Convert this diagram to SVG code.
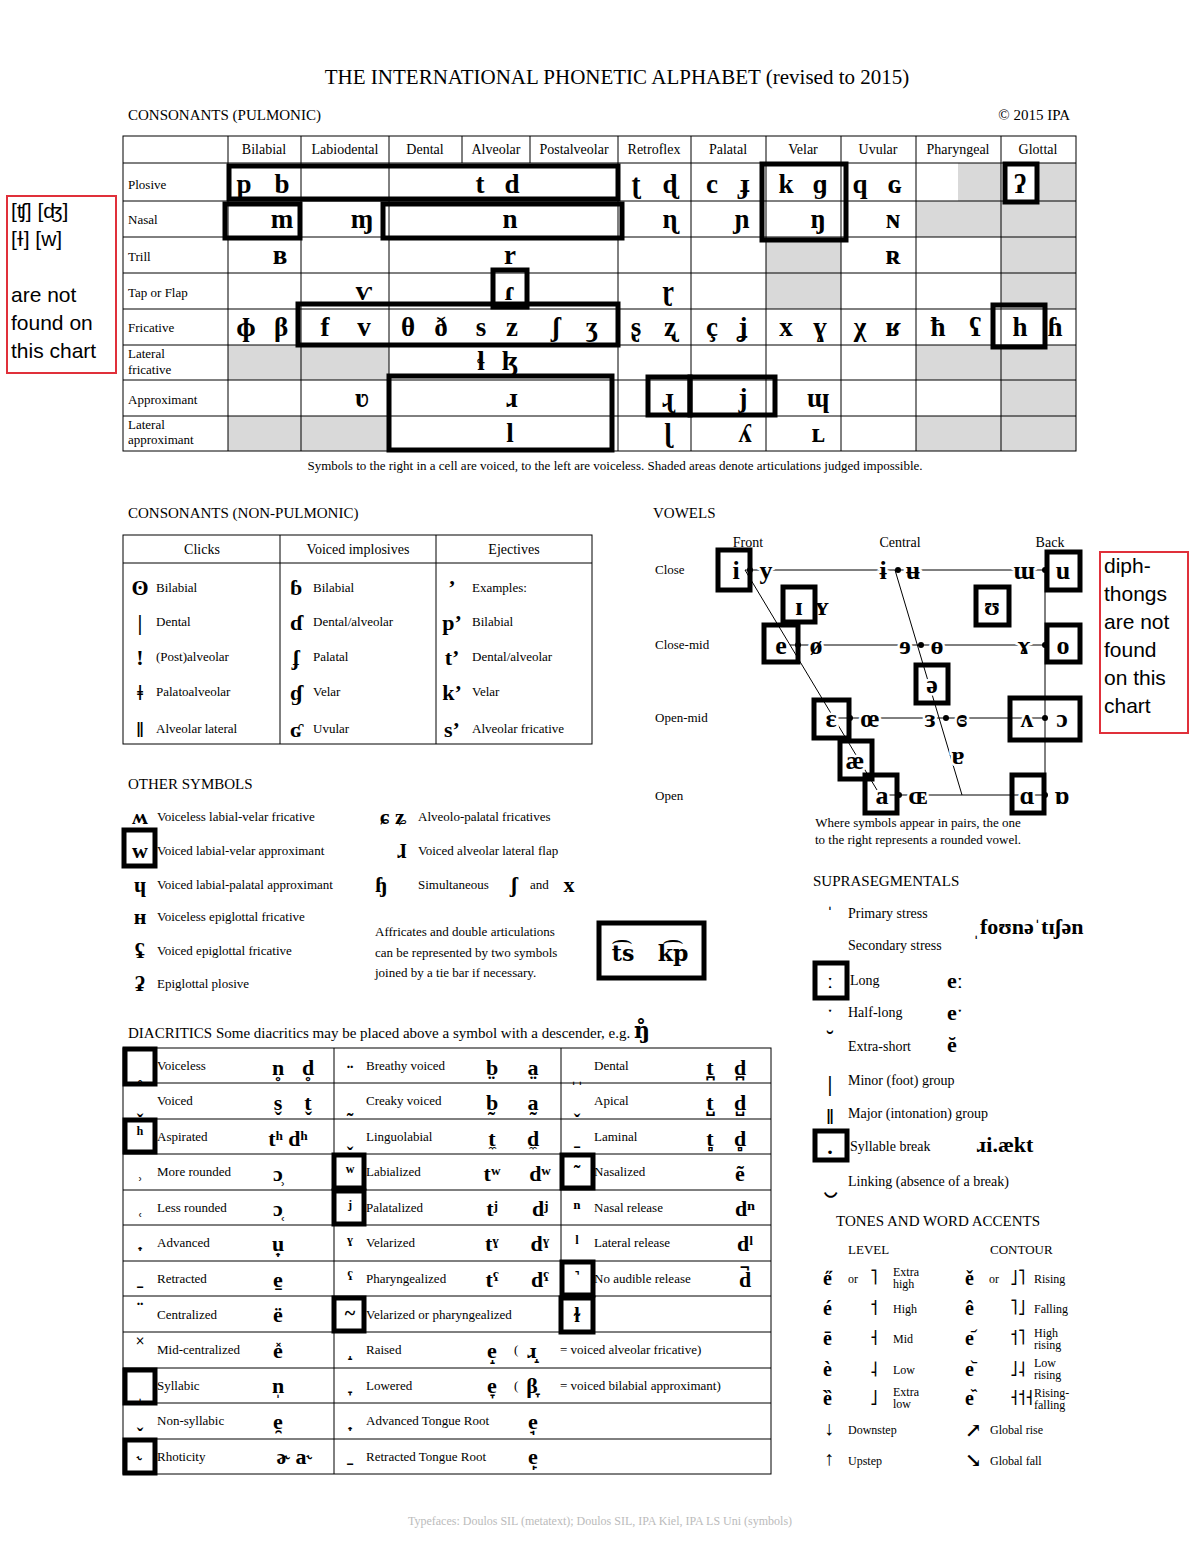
<svg xmlns="http://www.w3.org/2000/svg" width="1200" height="1553" viewBox="0 0 1200 1553">
<style>
text{font-family:"Liberation Serif","DejaVu Serif",serif;fill:#000}
.ti{font-size:21px}
.sec{font-size:15px}
.t{font-size:13px}
.h{font-size:14px;text-anchor:middle}
.s{font-size:27px;font-weight:bold;text-anchor:middle;font-family:"DejaVu Serif","Liberation Serif",serif}
.m{font-size:22px;font-weight:bold;text-anchor:middle;font-family:"DejaVu Serif",serif}
.v{font-size:26px;font-weight:bold;text-anchor:middle;font-family:"DejaVu Serif",serif;stroke:#fff;stroke-width:5;paint-order:stroke}
.g{fill:#d9d9d9}
.grid{stroke:#000;stroke-width:1;fill:none}
.box{fill:none;stroke:#000;stroke-width:5}
.red{fill:none;stroke:#e0303a;stroke-width:2}
.rt{font-family:"Liberation Sans",Arial,sans-serif;font-size:21px}
.tone{font-family:"DejaVu Sans",sans-serif;font-size:20px;font-weight:bold}
.dm{font-size:20px;font-weight:bold;text-anchor:middle;font-family:"DejaVu Sans",sans-serif}
</style>
<rect width="1200" height="1553" fill="#fff"/>
<text class="ti" x="617" y="84" text-anchor="middle">THE INTERNATIONAL PHONETIC ALPHABET (revised to 2015)</text>
<text class="sec" x="128" y="120">CONSONANTS (PULMONIC)</text>
<text class="sec" x="1070" y="120" text-anchor="end">© 2015 IPA</text>

<g id="pulmonic">
<rect class="g" x="958" y="163" width="43" height="38"/><rect class="g" x="1038" y="163" width="38" height="38"/>
<rect class="g" x="916" y="201" width="160" height="36"/>
<rect class="g" x="766" y="237" width="75" height="72"/><rect class="g" x="1001" y="237" width="75" height="72"/>
<rect class="g" x="228" y="345" width="161" height="35"/><rect class="g" x="916" y="345" width="160" height="35"/>
<rect class="g" x="1001" y="380" width="75" height="36"/>
<rect class="g" x="228" y="416" width="161" height="35"/><rect class="g" x="916" y="416" width="160" height="35"/>
<rect class="grid" x="123" y="136" width="953" height="315"/>
<path class="grid" d="M123 163H1076M123 201H1076M123 237H1076M123 273H1076M123 309H1076M123 345H1076M123 380H1076M123 416H1076M228 136V451M301 136V451M389 136V451M462 136V163M530 136V163M618 136V451M691 136V451M766 136V451M841 136V451M916 136V451M1001 136V451"/>
<g class="h"><text x="264" y="154">Bilabial</text><text x="345" y="154">Labiodental</text><text x="425" y="154">Dental</text><text x="496" y="154">Alveolar</text><text x="574" y="154">Postalveolar</text><text x="654" y="154">Retroflex</text><text x="728" y="154">Palatal</text><text x="803" y="154">Velar</text><text x="878" y="154">Uvular</text><text x="958" y="154">Pharyngeal</text><text x="1038" y="154">Glottal</text></g>
<g class="t"><text x="128" y="189">Plosive</text><text x="128" y="224">Nasal</text><text x="128" y="261">Trill</text><text x="128" y="297">Tap or Flap</text><text x="128" y="332">Fricative</text><text x="128" y="358">Lateral</text><text x="128" y="374">fricative</text><text x="128" y="404">Approximant</text><text x="128" y="429">Lateral</text><text x="128" y="444">approximant</text></g>
<g class="s">
<text x="244" y="193">p</text><text x="282" y="193">b</text><text x="480" y="193">t</text><text x="512" y="193">d</text><text x="636" y="193">ʈ</text><text x="670" y="193">ɖ</text><text x="712" y="193">c</text><text x="745" y="193">ɟ</text><text x="786" y="193">k</text><text x="820" y="193">ɡ</text><text x="860" y="193">q</text><text x="895" y="193">ɢ</text><text x="1020" y="193">ʔ</text>
<text x="282" y="228">m</text><text x="362" y="228">ɱ</text><text x="510" y="228">n</text><text x="670" y="228">ɳ</text><text x="742" y="228">ɲ</text><text x="818" y="228">ŋ</text><text x="893" y="228">ɴ</text>
<text x="280" y="264">ʙ</text><text x="510" y="264">r</text><text x="893" y="264">ʀ</text>
<text x="364" y="300">ⱱ</text><text x="510" y="300">ɾ</text><text x="668" y="300">ɽ</text>
<text x="246" y="336">ɸ</text><text x="281" y="336">β</text><text x="325" y="336">f</text><text x="364" y="336">v</text><text x="408" y="336">θ</text><text x="441" y="336">ð</text><text x="481" y="336">s</text><text x="512" y="336">z</text><text x="556" y="336">ʃ</text><text x="592" y="336">ʒ</text><text x="636" y="336">ʂ</text><text x="670" y="336">ʐ</text><text x="712" y="336">ç</text><text x="743" y="336">ʝ</text><text x="786" y="336">x</text><text x="820" y="336">ɣ</text><text x="860" y="336">χ</text><text x="893" y="336">ʁ</text><text x="938" y="336">ħ</text><text x="975" y="336">ʕ</text><text x="1020" y="336">h</text><text x="1055" y="336">ɦ</text>
<text x="481" y="370">ɬ</text><text x="510" y="370">ɮ</text>
<text x="362" y="407">ʋ</text><text x="512" y="407">ɹ</text><text x="668" y="407">ɻ</text><text x="743" y="407">j</text><text x="818" y="407">ɰ</text>
<text x="510" y="442">l</text><text x="668" y="442">ɭ</text><text x="745" y="442">ʎ</text><text x="818" y="442">ʟ</text>
</g>
<g class="box">
<rect x="229" y="166" width="389" height="33"/><rect x="225" y="204" width="75" height="34"/><rect x="383" y="204" width="239" height="34"/>
<rect x="762" y="164" width="84" height="76"/><rect x="1005" y="164" width="32" height="38"/><rect x="493" y="270" width="34" height="37"/>
<rect x="298" y="304" width="320" height="41"/><rect x="993" y="305" width="52" height="42"/>
<rect x="389" y="376" width="223" height="74"/><rect x="648" y="377" width="42" height="38"/><rect x="690" y="377" width="85" height="38"/>
</g>
<text class="t" x="615" y="470" text-anchor="middle">Symbols to the right in a cell are voiced, to the left are voiceless. Shaded areas denote articulations judged impossible.</text>
</g>

<g id="note-left">
<rect class="red" x="7" y="196" width="109" height="177"/>
<text class="rt" x="11" y="218">[ʧ] [ʤ]</text><text class="rt" x="11" y="246">[ɫ] [w]</text>
<text class="rt" x="11" y="302">are not</text><text class="rt" x="11" y="330">found on</text><text class="rt" x="11" y="358">this chart</text>
</g>

<g id="nonpulmonic">
<text class="sec" x="128" y="518">CONSONANTS (NON-PULMONIC)</text>
<rect class="grid" x="123" y="535" width="469" height="209"/>
<path class="grid" d="M123 563H592M280 535V744M436 535V744"/>
<g class="h"><text x="202" y="554">Clicks</text><text x="358" y="554">Voiced implosives</text><text x="514" y="554">Ejectives</text></g>
<g class="m"><text x="140" y="595">ʘ</text><text x="140" y="630">|</text><text x="140" y="665">ǃ</text><text x="140" y="700">ǂ</text><text x="140" y="737">ǁ</text>
<text x="296" y="595">ɓ</text><text x="296" y="630">ɗ</text><text x="296" y="665">ʄ</text><text x="296" y="700">ɠ</text><text x="296" y="737">ʛ</text>
<text x="452" y="595">ʼ</text><text x="452" y="630">pʼ</text><text x="452" y="665">tʼ</text><text x="452" y="700">kʼ</text><text x="452" y="737">sʼ</text></g>
<g class="t"><text x="156" y="592">Bilabial</text><text x="156" y="626">Dental</text><text x="156" y="661">(Post)alveolar</text><text x="156" y="696">Palatoalveolar</text><text x="156" y="733">Alveolar lateral</text>
<text x="313" y="592">Bilabial</text><text x="313" y="626">Dental/alveolar</text><text x="313" y="661">Palatal</text><text x="313" y="696">Velar</text><text x="313" y="733">Uvular</text>
<text x="472" y="592">Examples:</text><text x="472" y="626">Bilabial</text><text x="472" y="661">Dental/alveolar</text><text x="472" y="696">Velar</text><text x="472" y="733">Alveolar fricative</text></g>
</g>

<g id="vowels">
<text class="sec" x="653" y="518">VOWELS</text>
<g class="h"><text x="748" y="547">Front</text><text x="900" y="547">Central</text><text x="1050" y="547">Back</text></g>
<g class="t"><text x="655" y="574">Close</text><text x="655" y="649">Close-mid</text><text x="655" y="722">Open-mid</text><text x="655" y="800">Open</text></g>
<path class="grid" d="M745 570H1045V795H880ZM790 645H1045M835 718H1045M895 570L962 795"/>
<g class="v">
<text x="736" y="579">i</text><text x="766" y="579">y</text><text x="883" y="579">ɨ</text><text x="913" y="579">ʉ</text><text x="1024" y="579">ɯ</text><text x="1063" y="579">u</text>
<text x="799" y="615">ɪ</text><text x="822" y="615">ʏ</text><text x="992" y="615">ʊ</text>
<text x="781" y="654">e</text><text x="816" y="654">ø</text><text x="905" y="654">ɘ</text><text x="937" y="654">ɵ</text><text x="1024" y="654">ɤ</text><text x="1063" y="654">o</text>
<text x="932" y="693">ə</text>
<text x="831" y="727">ɛ</text><text x="870" y="727">œ</text><text x="930" y="727">ɜ</text><text x="962" y="727">ɞ</text><text x="1027" y="727">ʌ</text><text x="1062" y="727">ɔ</text>
<text x="855" y="769">æ</text><text x="958" y="764">ɐ</text>
<text x="882" y="804">a</text><text x="918" y="804">ɶ</text><text x="1027" y="804">ɑ</text><text x="1062" y="804">ɒ</text>
</g>
<g><circle cx="750" cy="570" r="3"/><circle cx="898" cy="570" r="3"/><circle cx="1045" cy="570" r="3"/><circle cx="798" cy="645" r="3"/><circle cx="921" cy="645" r="3"/><circle cx="1045" cy="645" r="3"/><circle cx="850" cy="718" r="3"/><circle cx="946" cy="718" r="3"/><circle cx="1045" cy="718" r="3"/><circle cx="899" cy="795" r="3"/><circle cx="1045" cy="795" r="3"/></g>
<g class="box">
<rect x="718" y="550" width="32" height="40"/><rect x="1047" y="552" width="33" height="38"/><rect x="783" y="587" width="32" height="35"/><rect x="976" y="587" width="33" height="38"/>
<rect x="764" y="625" width="34" height="37"/><rect x="1047" y="625" width="33" height="37"/><rect x="916" y="665" width="32" height="38"/>
<rect x="814" y="700" width="35" height="38"/><rect x="1010" y="698" width="70" height="42"/><rect x="840" y="741" width="32" height="38"/><rect x="865" y="775" width="32" height="38"/><rect x="1012" y="775" width="32" height="38"/>
</g>
<text class="t" x="918" y="827" text-anchor="middle">Where symbols appear in pairs, the one</text>
<text class="t" x="918" y="844" text-anchor="middle">to the right represents a rounded vowel.</text>
</g>

<g id="note-right">
<rect class="red" x="1100" y="552" width="88" height="181"/>
<text class="rt" x="1104" y="573">diph-</text><text class="rt" x="1104" y="601">thongs</text><text class="rt" x="1104" y="629">are not</text><text class="rt" x="1104" y="657">found</text><text class="rt" x="1104" y="685">on this</text><text class="rt" x="1104" y="713">chart</text>
</g>

<g id="other">
<text class="sec" x="128" y="789">OTHER SYMBOLS</text>
<g class="m"><text x="140" y="824">ʍ</text><text x="140" y="858">w</text><text x="140" y="892">ɥ</text><text x="140" y="924">ʜ</text><text x="140" y="958">ʢ</text><text x="140" y="991">ʡ</text>
<text x="393" y="824">ɕ ʑ</text><text x="402" y="858">ɺ</text><text x="381" y="892">ɧ</text><text x="514" y="892">ʃ</text><text x="569" y="892">x</text></g>
<rect class="box" x="124" y="830" width="31" height="36"/>
<g class="t"><text x="157" y="821">Voiceless labial-velar fricative</text><text x="157" y="855">Voiced labial-velar approximant</text><text x="157" y="889">Voiced labial-palatal approximant</text><text x="157" y="921">Voiceless epiglottal fricative</text><text x="157" y="955">Voiced epiglottal fricative</text><text x="157" y="988">Epiglottal plosive</text>
<text x="418" y="821">Alveolo-palatal fricatives</text><text x="418" y="855">Voiced alveolar lateral flap</text><text x="418" y="889">Simultaneous</text><text x="530" y="889">and</text>
<text x="375" y="936">Affricates and double articulations</text><text x="375" y="957">can be represented by two symbols</text><text x="375" y="977">joined by a tie bar if necessary.</text></g>
<rect class="box" x="599" y="923" width="105" height="55"/>
<text class="m" x="623" y="961">t͡s</text><text class="m" x="673" y="961">k͡p</text>
</g>

<g id="supra">
<text class="sec" x="813" y="886">SUPRASEGMENTALS</text>
<g class="m"><text x="830" y="921">ˈ</text><text x="830" y="960">ˌ</text><text x="830" y="988">ː</text><text x="830" y="1020">ˑ</text><text x="830" y="1046">˘</text><text x="830" y="1091">|</text><text x="830" y="1124">‖</text><text x="830" y="1154">.</text><text x="830" y="1192">‿</text>
<text x="1028" y="934">ˌfoʊnəˈtɪʃən</text><text x="955" y="988">eː</text><text x="955" y="1020">eˑ</text><text x="952" y="1052">ĕ</text><text x="1005" y="1152">ɹi.ækt</text></g>
<rect class="box" x="815" y="963" width="32" height="35"/><rect class="box" x="815" y="1131" width="32" height="29"/>
<g class="t" style="font-size:14px"><text x="848" y="918">Primary stress</text><text x="848" y="950">Secondary stress</text><text x="850" y="985">Long</text><text x="848" y="1017">Half-long</text><text x="848" y="1051">Extra-short</text><text x="848" y="1085">Minor (foot) group</text><text x="848" y="1118">Major (intonation) group</text><text x="850" y="1151">Syllable break</text><text x="848" y="1186">Linking (absence of a break)</text></g>
</g>

<g id="tones">
<text class="sec" x="836" y="1226">TONES AND WORD ACCENTS</text>
<text class="t" x="848" y="1254">LEVEL</text><text class="t" x="990" y="1254">CONTOUR</text>
<g class="tone"><text x="823" y="1285">e̋</text><text x="870" y="1285">˥</text><text x="823" y="1315">é</text><text x="870" y="1315">˦</text><text x="823" y="1345">ē</text><text x="870" y="1345">˧</text><text x="823" y="1376">è</text><text x="870" y="1376">˨</text><text x="823" y="1405">ȅ</text><text x="870" y="1405">˩</text>
<text x="965" y="1285">ě</text><text x="1010" y="1285">˩˥</text><text x="965" y="1315">ê</text><text x="1010" y="1315">˥˩</text><text x="965" y="1345">e᷄</text><text x="1010" y="1345">˦˥</text><text x="965" y="1376">e᷅</text><text x="1010" y="1376">˩˨</text><text x="965" y="1405">e᷈</text><text x="1010" y="1405">˧˦˧</text>
<text x="824" y="1435">↓</text><text x="824" y="1465">↑</text><text x="965" y="1437">↗</text><text x="965" y="1467">↘</text></g>
<g class="t" style="font-size:12px"><text x="848" y="1283">or</text><text x="893" y="1276">Extra</text><text x="893" y="1288">high</text><text x="893" y="1313">High</text><text x="893" y="1343">Mid</text><text x="893" y="1374">Low</text><text x="893" y="1396">Extra</text><text x="893" y="1408">low</text>
<text x="989" y="1283">or</text><text x="1034" y="1283">Rising</text><text x="1034" y="1313">Falling</text><text x="1034" y="1337">High</text><text x="1034" y="1349">rising</text><text x="1034" y="1367">Low</text><text x="1034" y="1379">rising</text><text x="1034" y="1397">Rising-</text><text x="1034" y="1409">falling</text>
<text x="848" y="1434">Downstep</text><text x="848" y="1465">Upstep</text><text x="990" y="1434">Global rise</text><text x="990" y="1465">Global fall</text></g>
</g>

<g id="diacritics">
<text class="sec" x="128" y="1038">DIACRITICS  Some diacritics may be placed above a symbol with a descender, e.g. <tspan font-family="DejaVu Serif" font-weight="bold" font-size="22">ŋ̊</tspan></text>
<rect class="grid" x="123" y="1048" width="648" height="426"/>
<path class="grid" d="M123 1083H771M123 1119H771M123 1154H771M123 1190H771M123 1225H771M123 1261H771M123 1296H771M123 1332H771M123 1368H771M123 1403H771M123 1439H771M334 1048V1474M561 1048V1332"/>
<g class="dm">
<text x="140" y="1080">˳</text><text x="140" y="1112">ˬ</text><text x="140" y="1140">ʰ</text><text x="140" y="1182">˒</text><text x="140" y="1218">˓</text><text x="140" y="1253">˖</text><text x="140" y="1285">ˍ</text><text x="140" y="1317">¨</text><text x="140" y="1352">˟</text><text x="140" y="1397">ˌ</text><text x="140" y="1426">ˬ</text><text x="140" y="1465">˞</text>
<text x="350" y="1080">¨</text><text x="350" y="1112">˷</text><text x="350" y="1145">ˬ</text><text x="350" y="1178">ʷ</text><text x="350" y="1214">ʲ</text><text x="350" y="1249">ˠ</text><text x="350" y="1285">ˤ</text><text x="350" y="1320">~</text><text x="350" y="1362">˔</text><text x="350" y="1397">˕</text><text x="350" y="1433">˖</text><text x="350" y="1468">˗</text>
<text x="577" y="1080">ˌˌ</text><text x="577" y="1112">ˬ</text><text x="577" y="1145">ˍ</text><text x="577" y="1180">˜</text><text x="577" y="1214">ⁿ</text><text x="577" y="1249">ˡ</text><text x="577" y="1285">˺</text><text x="577" y="1322">ɫ</text>
</g>
<g class="m">
<text x="278" y="1075">n̥</text><text x="308" y="1075">d̥</text><text x="278" y="1110">s̬</text><text x="308" y="1110">t̬</text><text x="288" y="1146">tʰ dʰ</text><text x="278" y="1181">ɔ̹</text><text x="278" y="1216">ɔ̜</text><text x="278" y="1251">u̟</text><text x="278" y="1287">e̠</text><text x="278" y="1322">ë</text><text x="278" y="1358">e̽</text><text x="278" y="1393">n̩</text><text x="278" y="1429">e̯</text><text x="295" y="1464">ɚ a˞</text>
<text x="492" y="1075">b̤</text><text x="533" y="1075">a̤</text><text x="492" y="1110">b̰</text><text x="533" y="1110">a̰</text><text x="492" y="1146">t̼</text><text x="533" y="1146">d̼</text><text x="492" y="1181">tʷ</text><text x="540" y="1181">dʷ</text><text x="492" y="1216">tʲ</text><text x="540" y="1216">dʲ</text><text x="492" y="1251">tˠ</text><text x="540" y="1251">dˠ</text><text x="492" y="1287">tˤ</text><text x="540" y="1287">dˤ</text>
<text x="492" y="1358">e̝</text><text x="492" y="1393">e̞</text><text x="533" y="1429">e̘</text><text x="533" y="1464">e̙</text>
<text x="710" y="1075">t̪</text><text x="740" y="1075">d̪</text><text x="710" y="1110">t̺</text><text x="740" y="1110">d̺</text><text x="710" y="1146">t̻</text><text x="740" y="1146">d̻</text><text x="740" y="1181">ẽ</text><text x="745" y="1216">dⁿ</text><text x="745" y="1251">dˡ</text><text x="745" y="1287">d̚</text>
<text x="532" y="1358">ɹ̝</text><text x="532" y="1393">β̞</text>
</g>
<g class="t">
<text x="157" y="1070">Voiceless</text><text x="157" y="1105">Voiced</text><text x="157" y="1141">Aspirated</text><text x="157" y="1176">More rounded</text><text x="157" y="1212">Less rounded</text><text x="157" y="1247">Advanced</text><text x="157" y="1283">Retracted</text><text x="157" y="1319">Centralized</text><text x="157" y="1354">Mid-centralized</text><text x="157" y="1390">Syllabic</text><text x="157" y="1425">Non-syllabic</text><text x="157" y="1461">Rhoticity</text>
<text x="366" y="1070">Breathy voiced</text><text x="366" y="1105">Creaky voiced</text><text x="366" y="1141">Linguolabial</text><text x="366" y="1176">Labialized</text><text x="366" y="1212">Palatalized</text><text x="366" y="1247">Velarized</text><text x="366" y="1283">Pharyngealized</text><text x="366" y="1319">Velarized or pharyngealized</text><text x="366" y="1354">Raised</text><text x="366" y="1390">Lowered</text><text x="366" y="1425">Advanced Tongue Root</text><text x="366" y="1461">Retracted Tongue Root</text>
<text x="594" y="1070">Dental</text><text x="594" y="1105">Apical</text><text x="594" y="1141">Laminal</text><text x="594" y="1176">Nasalized</text><text x="594" y="1212">Nasal release</text><text x="594" y="1247">Lateral release</text><text x="594" y="1283">No audible release</text>
<text x="514" y="1354">(</text><text x="560" y="1354">= voiced alveolar fricative)</text><text x="514" y="1390">(</text><text x="560" y="1390">= voiced bilabial approximant)</text>
</g>
<g class="box"><rect x="125" y="1049" width="30" height="35"/><rect x="125" y="1120" width="30" height="32"/><rect x="125" y="1370" width="30" height="33"/><rect x="125" y="1440" width="30" height="33"/>
<rect x="334" y="1155" width="30" height="33"/><rect x="334" y="1191" width="30" height="33"/><rect x="334" y="1298" width="30" height="33"/>
<rect x="562" y="1155" width="31" height="33"/><rect x="562" y="1262" width="31" height="33"/><rect x="561" y="1298" width="32" height="34"/></g>
</g>
<text x="600" y="1525" text-anchor="middle" style="font-size:12px;fill:#bbb">Typefaces: Doulos SIL (metatext); Doulos SIL, IPA Kiel, IPA LS Uni (symbols)</text>
</svg>
